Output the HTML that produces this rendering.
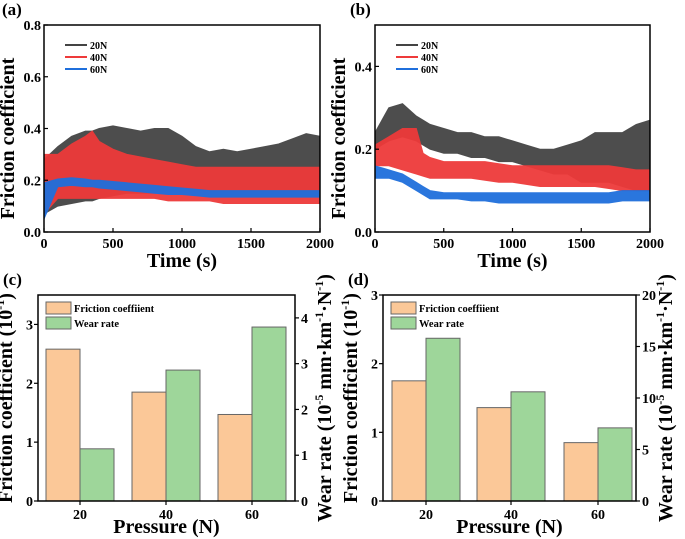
<!DOCTYPE html>
<html><head><meta charset="utf-8">
<style>
html,body{margin:0;padding:0;background:#fff;}
svg{display:block;font-family:"Liberation Serif",serif;font-weight:bold;}
</style></head>
<body>
<svg id="fig" width="685" height="539" viewBox="0 0 685 539" xmlns="http://www.w3.org/2000/svg"></svg>
<script>
// ---------- Data ----------
const timeA = [0,100,200,300,350,400,500,600,700,800,900,1000,1100,1200,1300,1400,1500,1600,1700,1800,1900,2000];
const a20Hi = [0.28,0.33,0.37,0.39,0.39,0.40,0.41,0.40,0.39,0.40,0.40,0.37,0.33,0.31,0.32,0.31,0.32,0.33,0.34,0.36,0.38,0.37];
const a20Lo = [0.07,0.10,0.11,0.12,0.12,0.13,0.14,0.15,0.15,0.15,0.15,0.15,0.15,0.15,0.15,0.15,0.15,0.15,0.15,0.15,0.15,0.15];
const a40Hi = [0.30,0.30,0.34,0.37,0.39,0.35,0.32,0.30,0.29,0.28,0.27,0.26,0.25,0.25,0.25,0.25,0.25,0.25,0.25,0.25,0.25,0.25];
const a40Lo = [0.07,0.13,0.13,0.13,0.13,0.13,0.13,0.13,0.13,0.13,0.12,0.12,0.12,0.12,0.11,0.11,0.11,0.11,0.11,0.11,0.11,0.11];
const a60Hi = [0.19,0.205,0.21,0.205,0.20,0.20,0.195,0.19,0.185,0.18,0.175,0.17,0.165,0.16,0.16,0.16,0.16,0.16,0.16,0.16,0.16,0.16];
const a60Lo = [0.05,0.175,0.18,0.175,0.175,0.17,0.165,0.16,0.155,0.15,0.145,0.145,0.14,0.135,0.135,0.135,0.135,0.135,0.135,0.135,0.135,0.135];
const timeB = [0,100,200,300,350,400,500,600,700,800,900,1000,1100,1200,1300,1400,1500,1600,1700,1800,1900,2000];
const b20Hi = [0.24,0.30,0.31,0.28,0.27,0.26,0.25,0.24,0.24,0.23,0.23,0.22,0.21,0.20,0.20,0.21,0.22,0.24,0.24,0.24,0.26,0.27];
const b20Lo = [0.20,0.22,0.23,0.22,0.21,0.20,0.19,0.19,0.18,0.18,0.17,0.17,0.16,0.15,0.14,0.14,0.12,0.12,0.12,0.11,0.10,0.10];
const b40Hi = [0.21,0.23,0.25,0.25,0.19,0.18,0.17,0.17,0.17,0.17,0.165,0.16,0.16,0.16,0.16,0.16,0.16,0.16,0.16,0.155,0.15,0.15];
const b40Lo = [0.16,0.16,0.15,0.14,0.135,0.13,0.13,0.13,0.13,0.125,0.12,0.12,0.115,0.11,0.11,0.11,0.11,0.11,0.105,0.10,0.10,0.10];
const b60Hi = [0.16,0.15,0.14,0.12,0.11,0.10,0.095,0.095,0.095,0.095,0.095,0.095,0.095,0.095,0.095,0.095,0.095,0.095,0.095,0.10,0.10,0.10];
const b60Lo = [0.13,0.13,0.12,0.10,0.09,0.08,0.08,0.08,0.075,0.075,0.07,0.07,0.07,0.07,0.07,0.07,0.07,0.07,0.07,0.075,0.075,0.075];
const pressures = ["20","40","60"];
const cFric = [2.58,1.85,1.47];
const cWear = [1.14,2.86,3.80];
const dFric = [1.75,1.36,0.85];
const dWear = [15.8,10.6,7.1];
const timeTicks = [0,500,1000,1500,2000];
const aTicks = ["0.0","0.2","0.4","0.6","0.8"];
const bTicks = ["0.0","0.2","0.4"];

// ---------- helpers ----------
const NS="http://www.w3.org/2000/svg";
const svg=document.getElementById('fig');
function mk(tag,attrs,parent){const e=document.createElementNS(NS,tag);for(const k in attrs)e.setAttribute(k,attrs[k]);(parent||svg).appendChild(e);return e;}
function txt(s,x,y,size,anchor,parent,rot){const t=mk('text',{x:x,y:y,'font-size':size,'text-anchor':anchor||'middle',fill:'#000'},parent);if(rot)t.setAttribute('transform','rotate(-90 '+x+' '+y+')');t.textContent=s;return t;}

function lineChart(box,ymax,yTicks,series,legendX,legendY,label,labelX,name){
  const g=mk('g',{});
  
  
  const sx=v=>box.x0+(v/2000)*(box.x1-box.x0);
  const sy=v=>box.y1-(v/ymax)*(box.y1-box.y0);
  series.forEach(s=>{
    let d='M';
    s.t.forEach((t,i)=>{d+=sx(t).toFixed(1)+','+sy(s.hi[i]).toFixed(1)+' L';});
    for(let i=s.t.length-1;i>=0;i--){d+=sx(s.t[i]).toFixed(1)+','+sy(s.lo[i]).toFixed(1)+(i>0?' L':' Z');}
    const p=mk('path',{d:d,fill:s.color,stroke:s.color,'stroke-width':1,opacity:0.95},g);
    
    
  });
  const fr=mk('rect',{x:box.x0,y:box.y0,width:box.x1-box.x0,height:box.y1-box.y0,fill:'none',stroke:'#000','stroke-width':1.5},g);
  
  
  timeTicks.forEach(t=>{
    mk('line',{x1:sx(t),x2:sx(t),y1:box.y1,y2:box.y1-4,stroke:'#000','stroke-width':1.2},g);
    const l=txt(String(t),sx(t),box.y1+16,14,'middle',g);
    
    
  });
  yTicks.forEach(s=>{
    const v=parseFloat(s);
    mk('line',{x1:box.x0,x2:box.x0+4,y1:sy(v),y2:sy(v),stroke:'#000','stroke-width':1.2},g);
    const l=txt(s,box.x0-3,sy(v)+5,14,'end',g);
    
    
  });
  const xt=txt('Time (s)',(box.x0+box.x1)/2,box.y1+35,20,'middle',g);
  
  
  const yt=txt('Friction coefficient',box.x0-30,(box.y0+box.y1)/2+10,20,'middle',g,true);
  
  
  series.forEach((s,i)=>{
    const ly=legendY+i*12;
    mk('line',{x1:legendX,x2:legendX+22,y1:ly,y2:ly,stroke:s.color,'stroke-width':2},g);
    const l=txt(s.name,legendX+25,ly+4,10,'start',g);
    
    
  });
  const pl=txt(label,labelX,box.y0-10,17,'start',g);
  
  
}

function barChart(box,lmax,lTicks,rmax,rTicks,centers,fric,wear,label,name){
  const g=mk('g',{});
  
  
  const syl=v=>box.y1-(v/lmax)*(box.y1-box.y0);
  const syr=v=>box.y1-(v/rmax)*(box.y1-box.y0);
  const bw=34;
  pressures.forEach((p,i)=>{
    const c=centers[i];
    const r1=mk('rect',{x:c-bw,y:syl(fric[i]),width:bw,height:box.y1-syl(fric[i]),fill:'#fbc898',stroke:'#666','stroke-width':1},g);
    
    
    const r2=mk('rect',{x:c,y:syr(wear[i]),width:bw,height:box.y1-syr(wear[i]),fill:'#9ed69a',stroke:'#666','stroke-width':1},g);
    
    
    mk('line',{x1:c,x2:c,y1:box.y1,y2:box.y1+4,stroke:'#000','stroke-width':1.2},g);
    const l=txt(p,c,box.y1+18,14,'middle',g);
    
    
  });
  const fr=mk('rect',{x:box.x0,y:box.y0,width:box.x1-box.x0,height:box.y1-box.y0,fill:'none',stroke:'#000','stroke-width':1.5},g);
  
  
  lTicks.forEach(v=>{
    mk('line',{x1:box.x0,x2:box.x0-4,y1:syl(v),y2:syl(v),stroke:'#000','stroke-width':1.2},g);
    const l=txt(String(v),box.x0-5,syl(v)+5,14,'end',g);
    
    
  });
  rTicks.forEach(v=>{
    mk('line',{x1:box.x1,x2:box.x1+4,y1:syr(v),y2:syr(v),stroke:'#000','stroke-width':1.2},g);
    const l=txt(String(v),box.x1+6,syr(v)+5,14,'start',g);
    
    
  });
  const xt=txt('Pressure (N)',(box.x0+box.x1)/2,box.y1+32,20,'middle',g);
  
  
  const cy=(box.y0+box.y1)/2;
  const yt=mk('text',{x:box.x0-26,y:cy,'font-size':20,'text-anchor':'middle',transform:'rotate(-90 '+(box.x0-26)+' '+cy+')'},g);
  yt.innerHTML='Friction coefficient (10<tspan font-size="12" dy="-8">-1</tspan><tspan dy="8">)</tspan>';
  
  
  const rx=box.x1+36;
  const rt=mk('text',{x:rx,y:cy,'font-size':20,'text-anchor':'middle',transform:'rotate(-90 '+rx+' '+cy+')'},g);
  rt.innerHTML='Wear rate (10<tspan font-size="12" dy="-8">-5</tspan><tspan dy="8"> mm·km</tspan><tspan font-size="12" dy="-8">-1</tspan><tspan dy="8">·N</tspan><tspan font-size="12" dy="-8">-1</tspan><tspan dy="8">)</tspan>';
  
  
  [['Friction coeffiient','#fbc898'],['Wear rate','#9ed69a']].forEach((e,i)=>{
    const ly=box.y0+7+i*15;
    mk('rect',{x:box.x0+8,y:ly,width:25,height:12,fill:e[1],stroke:'#666','stroke-width':1},g);
    const l=txt(e[0],box.x0+36,ly+10,10.5,'start',g);
    
    
  });
  const pl=txt(label,box.x0-35,box.y0-10,17,'start',g);
  
  
}

lineChart({x0:44,x1:320,y0:25,y1:232},0.8,aTicks,[
  {name:'20N',color:'#444444',t:timeA,hi:a20Hi,lo:a20Lo},
  {name:'40N',color:'#ee3a3a',t:timeA,hi:a40Hi,lo:a40Lo},
  {name:'60N',color:'#1f6fdc',t:timeA,hi:a60Hi,lo:a60Lo}],65,45,'(a)',2,'chart-a');
lineChart({x0:375,x1:650,y0:25,y1:232},0.5,bTicks,[
  {name:'20N',color:'#444444',t:timeB,hi:b20Hi,lo:b20Lo},
  {name:'40N',color:'#ee3a3a',t:timeB,hi:b40Hi,lo:b40Lo},
  {name:'60N',color:'#1f6fdc',t:timeB,hi:b60Hi,lo:b60Lo}],396,45,'(b)',350,'chart-b');
barChart({x0:38,x1:295,y0:295,y1:501},3.5,[0,1,2,3],4.5,[0,1,2,3,4],[80,166,252],cFric,cWear,'(c)','chart-c');
barChart({x0:383,x1:636,y0:295,y1:501},3,[0,1,2,3],20,[0,5,10,15,20],[426,511,598],dFric,dWear,'(d)','chart-d');
</script>
</body></html>
